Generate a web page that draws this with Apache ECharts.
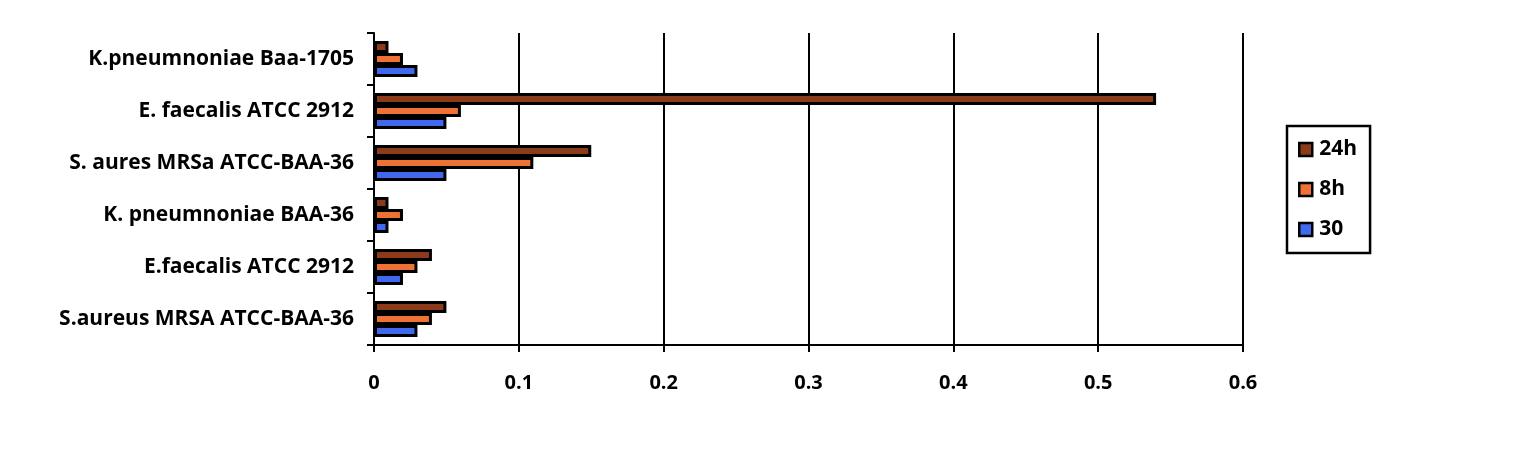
<!DOCTYPE html>
<html><head><meta charset="utf-8">
<script src="https://cdn.jsdelivr.net/npm/echarts@6/dist/echarts.min.js"></script>
<style>html,body{margin:0;padding:0;background:#fff}#c{width:1536px;height:460px}</style>
</head><body><div id="c"></div>
<script>
const categories = ["S.aureus MRSA ATCC-BAA-36","E.faecalis ATCC 2912","K. pneumnoniae BAA-36","S. aures MRSa ATCC-BAA-36","E. faecalis ATCC 2912","K.pneumnoniae Baa-1705"];
const seriesNames = ["24h","8h","30"];
const values24h = [0.05,0.04,0.01,0.15,0.54,0.01];
const values8h = [0.04,0.03,0.02,0.11,0.06,0.02];
const values30 = [0.03,0.02,0.01,0.05,0.05,0.03];
const colors = {"24h":"#8B3A1A","8h":"#ED7234","30":"#4169F0"};
const xTicks = [0,0.1,0.2,0.3,0.4,0.5,0.6];

const font = "'Open Sans', 'Liberation Sans', sans-serif";
function mk(name, data){
  return {name:name,type:'bar',data:data,barWidth:12,barGap:'0%',barCategoryGap:'30%',
    itemStyle:{color:colors[name],borderColor:'#000',borderWidth:3}};
}
const chart = echarts.init(document.getElementById('c'));
chart.setOption({
  animation:false,
  grid:{left:374,right:293,top:33,bottom:115},
  legend:{orient:'vertical',left:1287,top:126,data:seriesNames,
    padding:[13,13,13,11],itemGap:19,itemWidth:13,itemHeight:13,
    borderColor:'#000',borderWidth:2.5,
    itemStyle:{borderColor:'#000',borderWidth:2.5},
    textStyle:{fontFamily:font,fontWeight:'bold',fontSize:21,color:'#000',padding:[0,0,0,2]},
    icon:'rect'},
  xAxis:{type:'value',min:0,max:0.6,interval:0.1,
    axisLine:{show:true,lineStyle:{color:'#000',width:2}},
    axisTick:{show:true,inside:false,length:7,lineStyle:{color:'#000',width:2}},
    splitLine:{show:true,lineStyle:{color:'#000',width:2}},
    axisLabel:{margin:28,fontFamily:font,fontWeight:'bold',fontSize:20,color:'#000',
      formatter:function(v){return String(Math.round(v*10)/10);}}},
  yAxis:{type:'category',data:categories,
    axisLine:{show:true,onZero:false,lineStyle:{color:'#000',width:2}},
    axisTick:{show:true,length:7,lineStyle:{color:'#000',width:2}},
    axisLabel:{margin:20,fontFamily:font,fontWeight:'bold',fontSize:21,color:'#000'}},
  series:[mk("24h",values24h),mk("8h",values8h),mk("30",values30)]
});
</script></body></html>
